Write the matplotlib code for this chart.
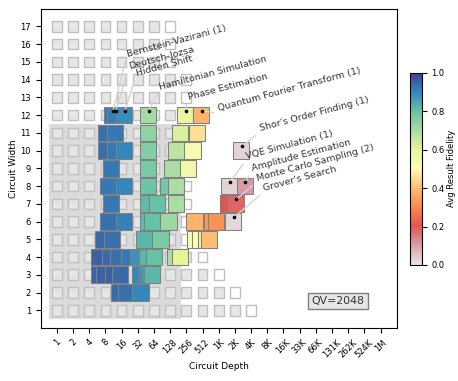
import numpy as np
import matplotlib
matplotlib.use("Agg")
import matplotlib.pyplot as plt
from matplotlib.patches import Rectangle
from matplotlib.colors import LinearSegmentedColormap, Normalize
from matplotlib.cm import ScalarMappable

# ---------------- data ----------------
depth_tick_labels = ['1', '2', '4', '8', '16', '32', '64', '128', '256', '512', '1K', '2K',
                     '4K', '8K', '16K', '33K', '66K', '131K', '262K', '524K', '1M']
width_ticks = list(range(1, 18))

# background grid: for each width, the depth index of the last (empty) cell
grid_widths = list(range(1, 18))
grid_last_index = [12, 11, 10, 9, 8, 8, 8, 8, 8, 8, 8, 8, 8, 8, 7, 7, 7]

qv_value = 2048
qv_width = 11
qv_region_depth = 143.0

bv_widths = [2, 3, 4, 5, 6, 7, 8, 9, 10, 11, 12]
bv_depths = [14.5, 6.1, 6.1, 7.2, 8.8, 10.2, 8.8, 10.2, 8.4, 8.4, 10.7]
bv_fid = [0.94, 0.95, 0.95, 0.94, 0.93, 0.93, 0.93, 0.93, 0.93, 0.93, 0.92]

dj_widths = [3, 4, 5, 6, 7, 8, 9, 10, 11, 12]
dj_depths = [7.7, 9.8, 10.6, 8.8, 10.2, 8.8, 10.2, 12.1, 12.1, 12.1]
dj_fid = [0.95, 0.94, 0.93, 0.93, 0.92, 0.92, 0.92, 0.92, 0.92, 0.91]

hs_widths = [2, 4, 6, 8, 10, 12]
hs_depths = [25.5, 13.9, 17.6, 17.6, 17.6, 17.8]
hs_fid = [0.93, 0.93, 0.91, 0.90, 0.90, 0.89]

ham_widths = [2, 3, 4, 5, 6, 7, 8, 9, 10, 11, 12]
ham_depths = [19.7, 35.3, 39.4, 41.1, 49.5, 49.5, 49.5, 49.5, 49.5, 49.5, 49.5]
ham_fid = [0.93, 0.90, 0.86, 0.82, 0.81, 0.81, 0.79, 0.77, 0.76, 0.74, 0.71]

pe_widths = [3, 4, 5, 6, 7, 8, 9, 10, 11, 12]
pe_depths = [10.9, 21.9, 42.2, 59.7, 73.5, 115.4, 137.2, 163.1, 194.0, 238.9]
pe_fid = [0.95, 0.92, 0.82, 0.80, 0.80, 0.78, 0.70, 0.67, 0.62, 0.58]

qft_widths = [2, 3, 4, 5, 6, 7, 8, 9, 10, 11, 12]
qft_depths = [36.0, 14.9, 32.9, 84.4, 119.4, 165.4, 165.4, 274.4, 333.2, 398.9, 484.4]
qft_fid = [0.90, 0.94, 0.88, 0.77, 0.72, 0.70, 0.70, 0.55, 0.52, 0.45, 0.38]

shor_widths = [10]
shor_depths = [2702.0]
shor_fid = [0.03]

vqe_widths = [4, 5, 6, 8]
vqe_depths = [48.5, 372.1, 362.0, 1607.0]
vqe_fid = [0.82, 0.52, 0.38, 0.03]

ae_widths = [3, 4, 5, 6, 7, 8]
ae_depths = [45.3, 157.6, 461.4, 776.0, 1552.0, 3104.0]
ae_fid = [0.88, 0.70, 0.50, 0.33, 0.20, 0.11]

mc_widths = [3, 4, 5, 6, 7]
mc_depths = [52.0, 64.0, 588.1, 922.7, 2105.0]
mc_fid = [0.86, 0.80, 0.47, 0.32, 0.18]

gr_widths = [3, 4, 5, 6]
gr_depths = [59.7, 194.0, 675.6, 1911.0]
gr_fid = [0.82, 0.60, 0.40, 0.02]

bench_labels = ["Bernstein-Vazirani (1)", "Deutsch-Jozsa", "Hidden Shift",
                "Hamiltonian Simulation", "Phase Estimation", "Quantum Fourier Transform (1)",
                "Shor's Order Finding (1)", "VQE Simulation (1)", "Amplitude Estimation",
                "Monte Carlo Sampling (2)", "Grover's Search"]
label_x = [4.37, 4.49, 4.95, 6.39, 8.14, 9.99, 12.57, 11.75, 12.06, 12.37, 12.82]
label_y = [15.25, 14.60, 14.19, 13.44, 12.83, 12.22, 11.09, 9.50, 8.84, 8.28, 7.71]

benchmarks = [
    (bv_widths, bv_depths, bv_fid),
    (dj_widths, dj_depths, dj_fid),
    (hs_widths, hs_depths, hs_fid),
    (ham_widths, ham_depths, ham_fid),
    (pe_widths, pe_depths, pe_fid),
    (qft_widths, qft_depths, qft_fid),
    (shor_widths, shor_depths, shor_fid),
    (vqe_widths, vqe_depths, vqe_fid),
    (ae_widths, ae_depths, ae_fid),
    (mc_widths, mc_depths, mc_fid),
    (gr_widths, gr_depths, gr_fid),
]

# ---------------- style ----------------
cmap = LinearSegmentedColormap.from_list("fid", [
    (0.00, '#e8e5e7'), (0.10, '#d8a0ae'), (0.20, '#e4554f'), (0.30, '#f7894f'),
    (0.40, '#fdbf6f'), (0.50, '#fefbb7'), (0.60, '#e6f598'), (0.70, '#abdda4'),
    (0.80, '#66c2a5'), (0.90, '#3288bd'), (1.00, '#45408f')])
norm = Normalize(0, 1)

fig = plt.figure(figsize=(4.58, 3.81), dpi=100)
ax = fig.add_axes([0.0889, 0.1391, 0.7773, 0.8381])
ax.set_xlim(-1, 21)
ax.set_ylim(0, 18)

# QV region
qv_edge = np.log2(qv_region_depth) + 0.5
ax.add_patch(Rectangle((-0.5, 0.5), qv_edge + 0.5, qv_width, facecolor=(0.86, 0.86, 0.86),
                       edgecolor='none', zorder=0))

# background grid
bs = 0.6
for w, last in zip(grid_widths, grid_last_index):
    for d in range(last + 1):
        fc = (0.9, 0.9, 0.9) if d < last else (1, 1, 1)
        ax.add_patch(Rectangle((d - bs / 2, w - bs / 2), bs, bs, facecolor=fc,
                               edgecolor=(0.75, 0.75, 0.75), linewidth=1, zorder=1))

# data boxes
xs, ys = 1.0, 0.94
for widths, depths, fids in benchmarks:
    for w, dpt, f in zip(widths, depths, fids):
        x = np.log2(dpt)
        ax.add_patch(Rectangle((x - xs / 2, w - ys / 2), xs, ys, facecolor=cmap(norm(f)),
                               edgecolor=(0.5, 0.5, 0.5), linewidth=0.75, zorder=2))

# annotations
for (widths, depths, fids), lab, tx, ty in zip(benchmarks, bench_labels, label_x, label_y):
    px = np.log2(depths[-1]) + 0.05
    py = widths[-1] + 0.25
    ax.annotate(lab, xy=(px, py), xytext=(tx, ty), rotation=15, rotation_mode='anchor',
                ha='left', va='baseline', fontsize=6.8, color=(0.2, 0.2, 0.2), zorder=4,
                arrowprops=dict(arrowstyle='-', color='lightgray', lw=1, shrinkA=0, shrinkB=0,
                                relpos=(0, 0)))
    ax.plot([px], [py], 'o', ms=1.6, color='black', zorder=5)

ax.text(17.37, 1.52, f"QV={qv_value}", fontsize=7.8, ha='center', va='center',
        color=(0.2, 0.2, 0.2),
        bbox=dict(boxstyle='square,pad=0.3', facecolor=(0.9, 0.9, 0.9), edgecolor=(0.5, 0.5, 0.5)))

ax.set_xticks(range(len(depth_tick_labels)))
ax.set_xticklabels(depth_tick_labels, rotation=45, fontsize=6)
ax.set_yticks(width_ticks)
ax.set_yticklabels([str(v) for v in width_ticks], fontsize=6)
ax.set_xlabel("Circuit Depth", fontsize=6.5, labelpad=2)
ax.set_ylabel("Circuit Width", fontsize=6.5, labelpad=2)

cax = fig.add_axes([0.895, 0.3045, 0.0255, 0.505])
cb = fig.colorbar(ScalarMappable(norm=norm, cmap=cmap), cax=cax)
cb.set_ticks([0.0, 0.2, 0.4, 0.6, 0.8, 1.0])
cb.ax.tick_params(labelsize=6)
cb.set_label("Avg Result Fidelity", fontsize=6, labelpad=2)

fig.savefig("out.png", dpi=100)
